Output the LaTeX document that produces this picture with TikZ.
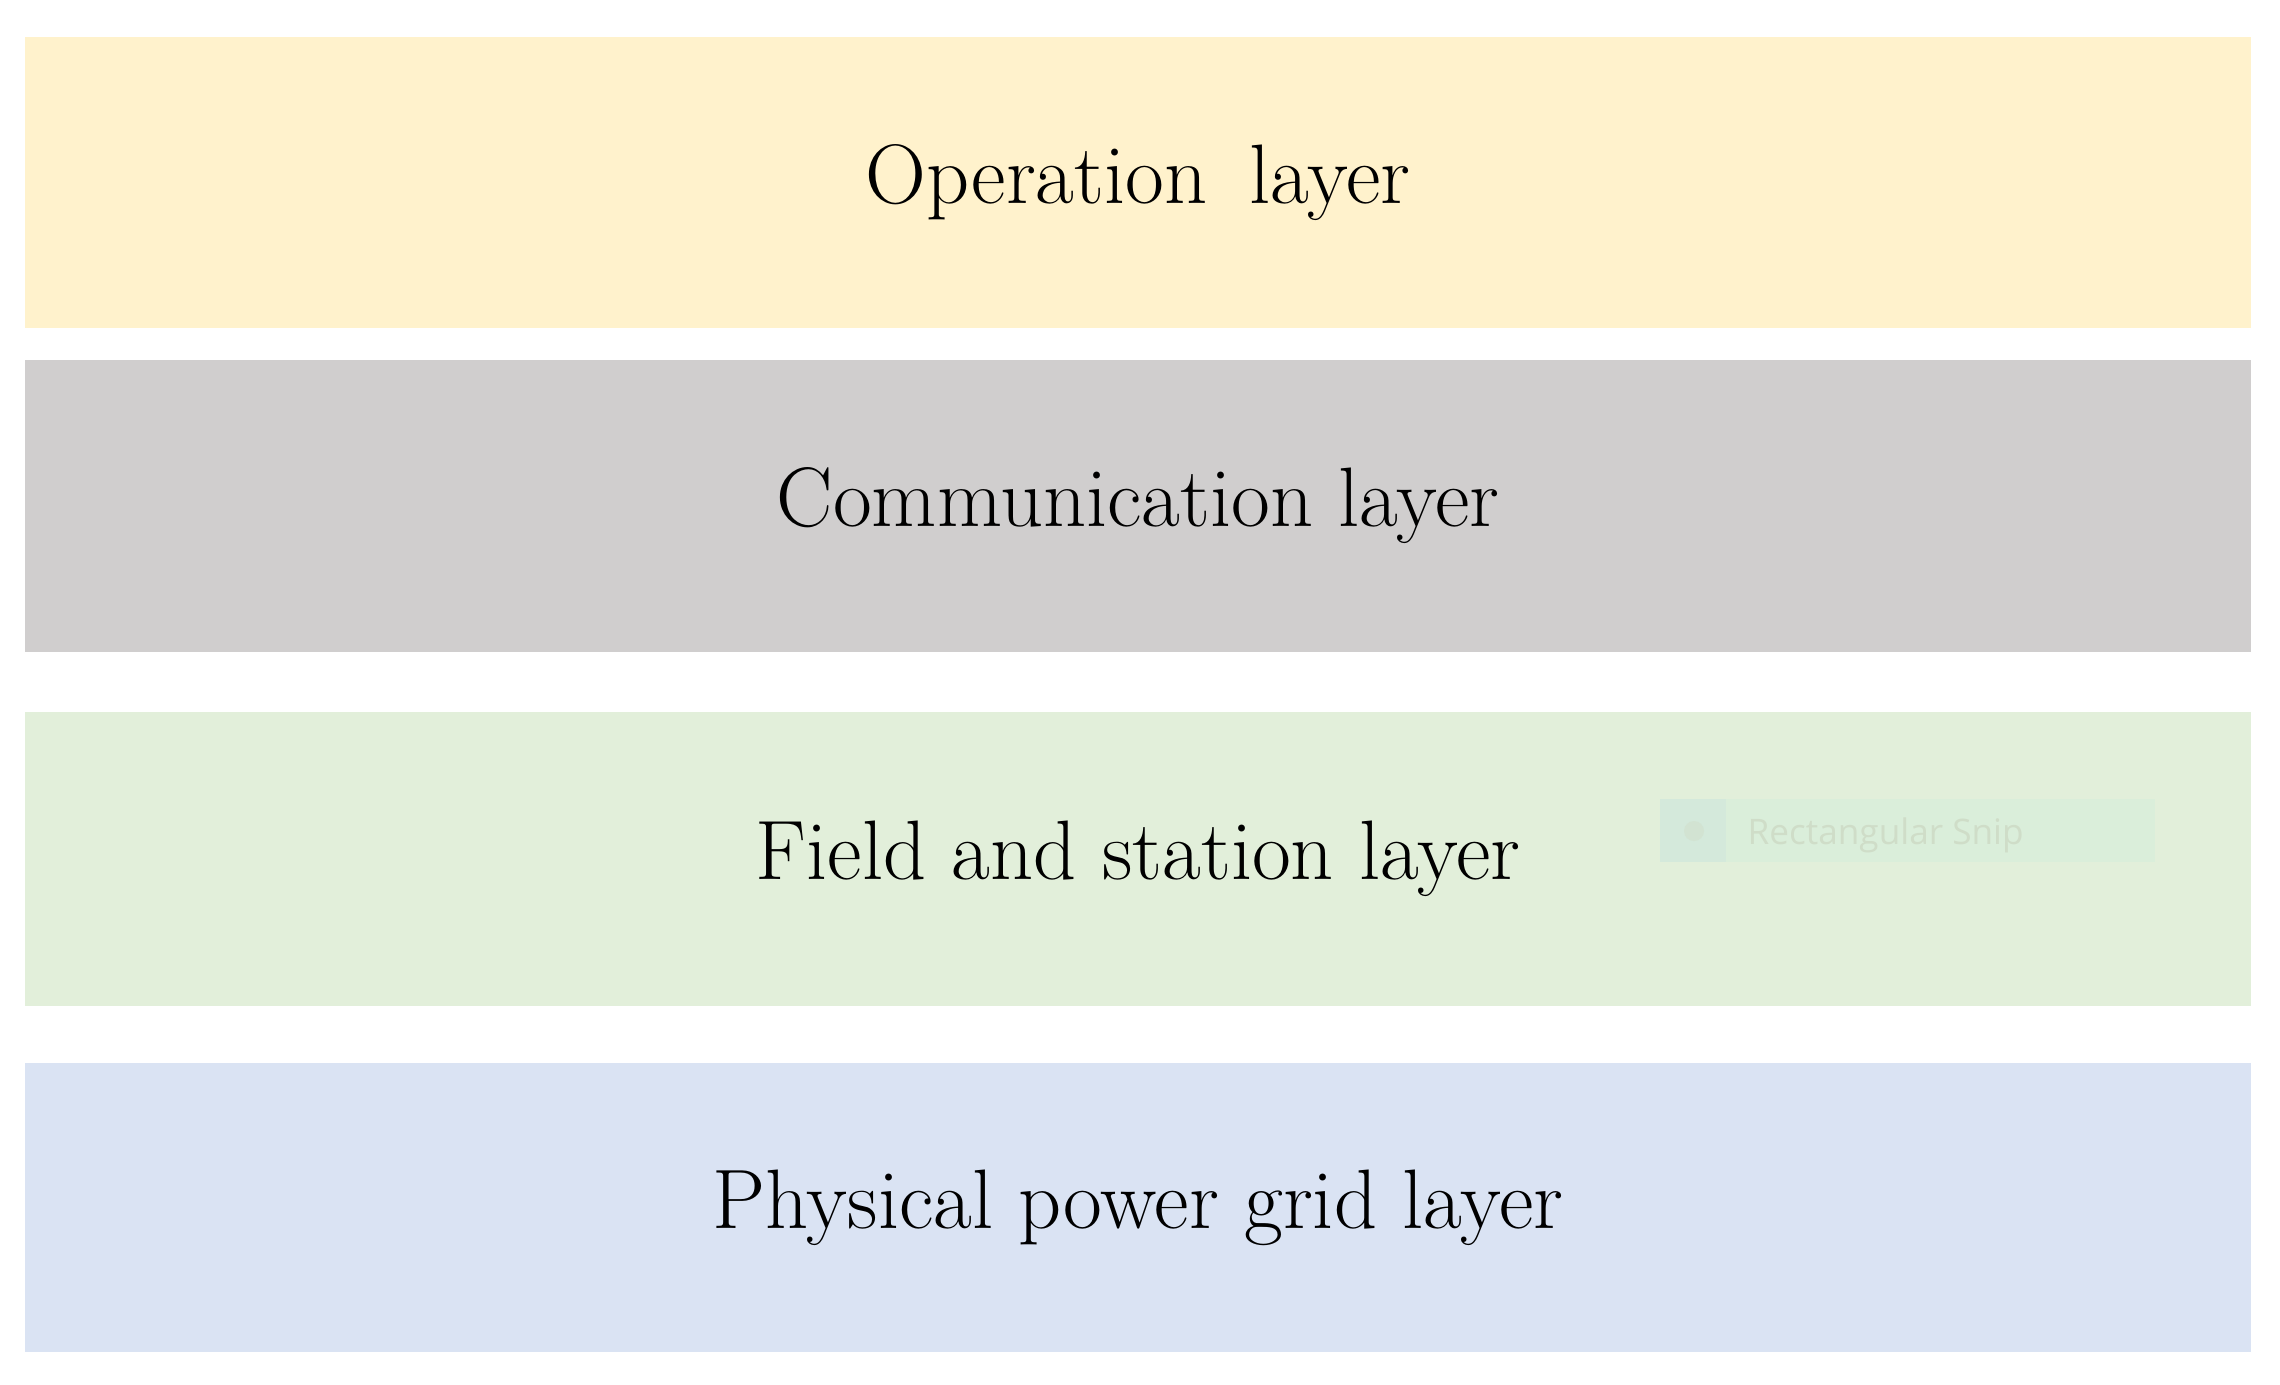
\documentclass[tikz,border=0pt]{standalone}
\usepackage{fontspec}
\newfontfamily\uifont{Open Sans}
\definecolor{opfill}{HTML}{FFF2CC}
\definecolor{comfill}{HTML}{D0CECE}
\definecolor{fieldfill}{HTML}{E2EFDA}
\definecolor{physfill}{HTML}{DAE3F3}
\definecolor{snipfill}{HTML}{DAEEDA}
\definecolor{snipsq}{HTML}{D4E9DB}
\definecolor{snipdot}{HTML}{D2E3D2}
\definecolor{sniptext}{HTML}{CFDDC8}
\begin{document}
\begin{tikzpicture}[x=0.01cm,y=-0.01cm,
  band/.style={rectangle, inner sep=0pt, minimum width=22.24cm, minimum height=2.91cm,
    font=\fontsize{24}{29}\selectfont, text=black}]
\useasboundingbox[fill=white] (0,0) rectangle (2280,1384);
\node[band, fill=opfill] (op) at (1138,182.5) {Operation\hspace{0.2em} layer};
\node[band, fill=comfill] (com) at (1138,506) {Communication layer};
\node[band, fill=fieldfill, minimum height=2.93cm] (field) at (1138,859) {Field and station layer};
\node[band, fill=physfill, minimum height=2.89cm] (phys) at (1138,1207.5) {Physical power grid layer};
% faint snip overlay
\node[rectangle, inner sep=0pt, fill=snipfill, minimum width=4.95cm, minimum height=0.63cm] (snip) at (1907.5,830) {};
\node[rectangle, inner sep=0pt, fill=snipsq, minimum width=0.66cm, minimum height=0.63cm] (snipsq) at (1693,830) {};
\node[circle, inner sep=0pt, fill=snipdot, minimum size=0.2cm] (dot) at (1694,831) {};
\node[anchor=west, inner sep=0pt, text=sniptext, font=\uifont\fontsize{10}{12}\selectfont] (sniptxt) at (1747,835) {Rectangular Snip};
\end{tikzpicture}
\end{document}
